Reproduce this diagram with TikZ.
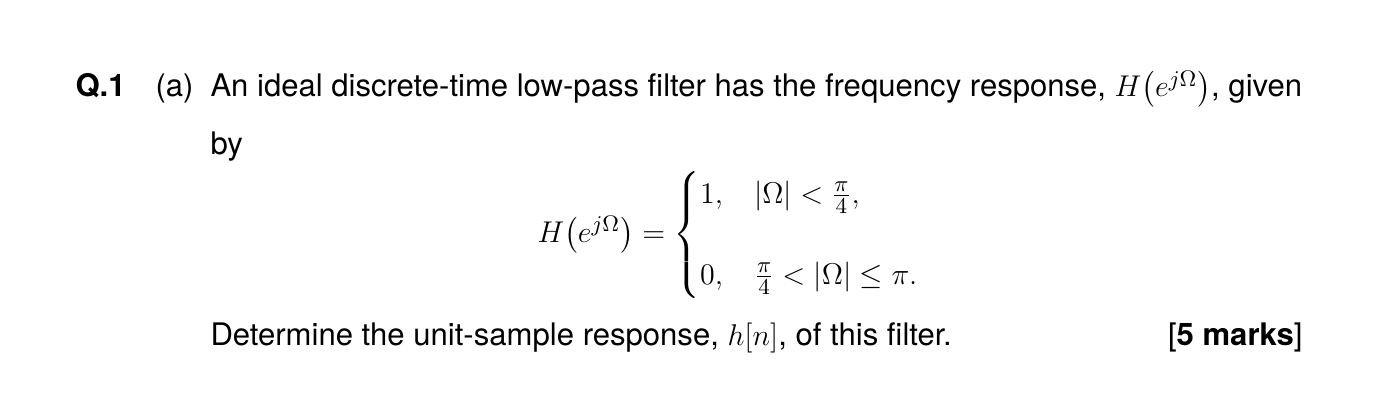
\documentclass[tikz,border=0pt]{standalone}
\usepackage{amsmath}
\usepackage{fontspec}
\setmainfont{TeX Gyre Heros}
\begin{document}
\begin{tikzpicture}[x=0.4pt,y=-0.4pt,txt/.style={inner sep=0pt,font=\fontsize{12.43}{14.5}\selectfont}]
\useasboundingbox (0,0) rectangle (1399,406);
\node[txt,anchor=base west] (q) at (75,97) {\textbf{Q.1}};
\node[txt,anchor=base west] (a) at (155,97) {(a)};
\node[txt,anchor=base west] (l1) at (210,97) {An ideal discrete-time low-pass filter has the frequency response, $H\bigl(e^{j\Omega}\bigr)$, given};
\node[txt,anchor=base west] (l2) at (210,155) {by};
\node[txt,anchor=west] (eq) at (537,235) {$H\bigl(e^{j\Omega}\bigr)=\begin{cases}1, & |\Omega|<\frac{\pi}{4},\\[2.3ex] 0, & \frac{\pi}{4}<|\Omega|\le\pi.\end{cases}$};
\node[txt,anchor=base west] (l3) at (210,345) {Determine the unit-sample response, $h[n]$, of this filter.};
\node[txt,anchor=base east] (m) at (1303,345) {[\textbf{5 marks}]};
\end{tikzpicture}
\end{document}
